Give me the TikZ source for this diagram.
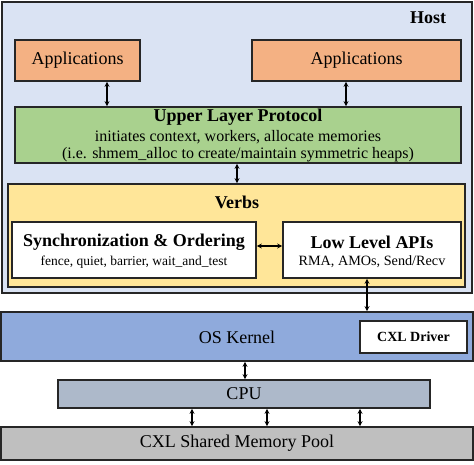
\documentclass[tikz,border=0pt]{standalone}
\usepackage{fontspec}
\setmainfont{Liberation Serif}
\usetikzlibrary{arrows.meta,calc}
\definecolor{hostc}{HTML}{DAE3F3}
\definecolor{appc}{HTML}{F4B183}
\definecolor{ulpc}{HTML}{A9D18E}
\definecolor{verbc}{HTML}{FFE699}
\definecolor{osc}{HTML}{8FAADC}
\definecolor{cpuc}{HTML}{ADB9CA}
\definecolor{poolc}{HTML}{BFBFBF}
\begin{document}
\begin{tikzpicture}[x=1pt,y=-1pt,
  box/.style={draw=black!85,line width=1.6pt,inner sep=0pt,anchor=center},
  big/.style={font=\fontsize{18}{20}\selectfont},
  bigb/.style={font=\fontsize{18}{20}\selectfont\bfseries},
  mid/.style={font=\fontsize{16}{18}\selectfont},
  small/.style={font=\fontsize{14.2}{16}\selectfont},
  smallb/.style={font=\fontsize{14}{16}\selectfont\bfseries},
  arr/.style={line width=1.5pt,{Stealth[length=5pt,width=5pt]}-{Stealth[length=5pt,width=5pt]}}]
\useasboundingbox (0,0) rectangle (474,465);
% boxes
\node[box,fill=hostc,minimum width=470pt,minimum height=291pt] (host) at (237,147.5) {};
\node[bigb] (hostlbl) at (428,18) {Host};
\node[box,fill=appc,minimum width=125pt,minimum height=41pt,big] (app1) at (77.5,60.5) {Applications};
\node[box,fill=appc,minimum width=209pt,minimum height=41pt,big] (app2) at (356.5,60.5) {Applications};
\node[box,fill=ulpc,minimum width=446pt,minimum height=56pt] (ulp) at (238,135) {};
\node[bigb] (ulpt) at (238,117) {Upper Layer Protocol};
\node[mid] (ulp1) at (238,137) {initiates context, workers, allocate memories};
\node[mid] (ulp2) at (238,155) {(i.e. shmem\_alloc to create/maintain symmetric heaps)};
\node[box,fill=verbc,minimum width=457pt,minimum height=103pt] (verbs) at (236.5,235.5) {};
\node[bigb] (verbst) at (237,202) {Verbs};
\node[box,fill=white,minimum width=244pt,minimum height=56pt] (sync) at (134,250) {};
\node[bigb] (synct) at (134,242) {Synchronization \& Ordering};
\node[font=\fontsize{13.5}{16}\selectfont] (syncs) at (134,262) {fence, quiet, barrier, wait\_and\_test};
\node[box,fill=white,minimum width=178pt,minimum height=56pt] (low) at (372,250) {};
\node[bigb] (lowt) at (372,242) {Low Level APIs};
\node[small] (lows) at (372,262) {RMA, AMOs, Send/Recv};
\node[box,fill=osc,minimum width=472pt,minimum height=49pt] (os) at (237,336.5) {};
\node[big] (ost) at (237,337) {OS Kernel};
\node[box,fill=white,minimum width=107pt,minimum height=32pt,smallb] (drv) at (413.5,337) {CXL Driver};
\node[box,fill=cpuc,minimum width=372pt,minimum height=28pt,big] (cpu) at (244,394) {CPU};
\node[box,fill=poolc,minimum width=472pt,minimum height=33pt,big] (pool) at (237,443.5) {CXL Shared Memory Pool};
% connectors
\draw[arr] ([xshift=29.5pt]app1.south) -- ([xshift=29.5pt]app1.south |- ulp.north);
\draw[arr] ([xshift=-10.5pt]app2.south) -- ([xshift=-10.5pt]app2.south |- ulp.north);
\draw[arr] ([xshift=-1pt]ulp.south) -- ([xshift=-1pt]ulp.south |- verbs.north);
\draw[arr] ([yshift=4pt]sync.east) -- ([yshift=4pt]sync.east -| low.west);
\draw[arr] ([xshift=-5pt]low.south) -- ([xshift=-5pt]low.south |- os.north);
\draw[arr] ([xshift=1pt]cpu.north) -- ([xshift=1pt]cpu.north |- os.south);
\draw[arr] ([xshift=-52pt]cpu.south) -- ([xshift=-52pt]cpu.south |- pool.north);
\draw[arr] ([xshift=23pt]cpu.south) -- ([xshift=23pt]cpu.south |- pool.north);
\draw[arr] ([xshift=116pt]cpu.south) -- ([xshift=116pt]cpu.south |- pool.north);
\end{tikzpicture}
\end{document}
